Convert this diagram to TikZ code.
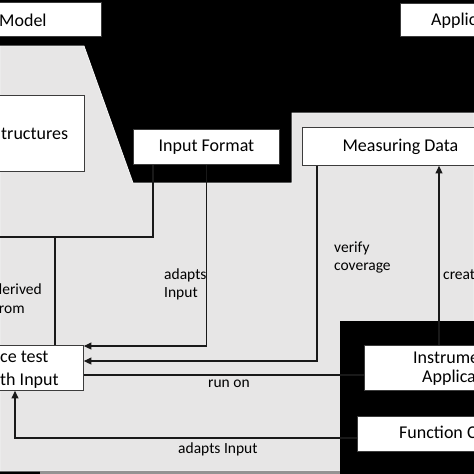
\documentclass[tikz,border=0pt]{standalone}
\usepackage{fontspec}
\setmainfont{Carlito}
\usetikzlibrary{arrows.meta}
\definecolor{panelgray}{RGB}{231,230,230}
\definecolor{edgegray}{RGB}{60,60,60}
\definecolor{wiregray}{RGB}{25,25,25}
\begin{document}
\begin{tikzpicture}[x=1pt,y=-1pt,
	box/.style={draw=edgegray,line width=0.9pt,fill=white,inner sep=0pt,anchor=north west,font=\fontsize{18}{22}\selectfont},
	txt/.style={inner sep=0pt,anchor=base west,font=\fontsize{18}{22}\selectfont},
	lbl/.style={inner sep=0pt,anchor=base west,font=\fontsize{15.5}{19}\selectfont},
	link/.style={draw=wiregray,line width=1.3pt},
	flow/.style={link,-{Triangle[length=7.5pt,width=7pt]}}]
\useasboundingbox (0,0) rectangle (474,474);
\fill[black] (0,0) rectangle (474,474);
% panels
\filldraw[fill=panelgray,draw=white!92!gray,line width=0.8pt] (0,46) -- (84,46) -- (133,183) -- (292,183) -- (292,113) -- (474,113) -- (474,471) -- (0,471) -- cycle;
\fill[gray!85] (40,471) rectangle (342,474);
\fill[black] (340,321) rectangle (474,474);
% boxes
\node[box,minimum width=141pt,minimum height=34pt] (model) at (-40,1.5) {};
\node[box,minimum width=120pt,minimum height=33pt] (app) at (400,3) {};
\node[box,minimum width=144pt,minimum height=76pt] (structures) at (-60,95) {};
\node[box,minimum width=146pt,minimum height=35pt] (input) at (133,129) {Input Format};
\node[box,minimum width=196pt,minimum height=38pt] (measuring) at (302,127) {Measuring Data};
\node[box,minimum width=143pt,minimum height=45pt] (test) at (-60,345) {};
\node[box,minimum width=160pt,minimum height=45pt] (instr) at (364,345) {};
\node[box,minimum width=160pt,minimum height=35pt] (func) at (357,416) {};
% box texts
\node[txt] (modeltxt) at (-1,26) {Model};
\node[txt] (apptxt) at (431,25) {Applic};
\node[txt] (structxt) at (1,139) {tructures};
\node[txt] (testtxta) at (0,362) {ce test};
\node[txt] (testtxtb) at (0,385) {th Input};
\node[txt] (instrtxta) at (413,363) {Instrume};
\node[txt] (instrtxtb) at (422,382) {Applica};
\node[txt] (functxt) at (399,438) {Function C};
% connectors
\coordinate (join) at (55,237);
\draw[link] ([xshift=40pt]structures.south west) |- (join);
\draw[link] ([xshift=20pt]input.south west) |- (join);
\draw[link] (join) -- (test.north -| join);
\draw[flow] (input.south) |- ([yshift=-1pt]test.north east);
\draw[flow] ([xshift=15pt]measuring.south west) |- ([yshift=-16pt]test.north east);
\draw[link] ([yshift=-30pt]test.north east) -- ([yshift=-30pt]test.north east -| instr.west);
\draw[flow] ([yshift=-4pt]func.west) -| ([xshift=75pt]test.south west);
\draw[flow] ([xshift=75pt]instr.north west) -- ([xshift=137pt]measuring.south west);
% labels
\node[lbl] (derived) at (-6,294) {derived};
\node[lbl] (from) at (-6,313) {from};
\node[lbl] (adaptsa) at (164,279) {adapts};
\node[lbl] (inputa) at (164,297) {Input};
\node[lbl] (verify) at (334,252) {verify};
\node[lbl] (coverage) at (334,270) {coverage};
\node[lbl] (creat) at (443,279) {creat};
\node[lbl] (runon) at (208,387) {run on};
\node[lbl] (adaptsb) at (178,453) {adapts Input};
\end{tikzpicture}
\end{document}
